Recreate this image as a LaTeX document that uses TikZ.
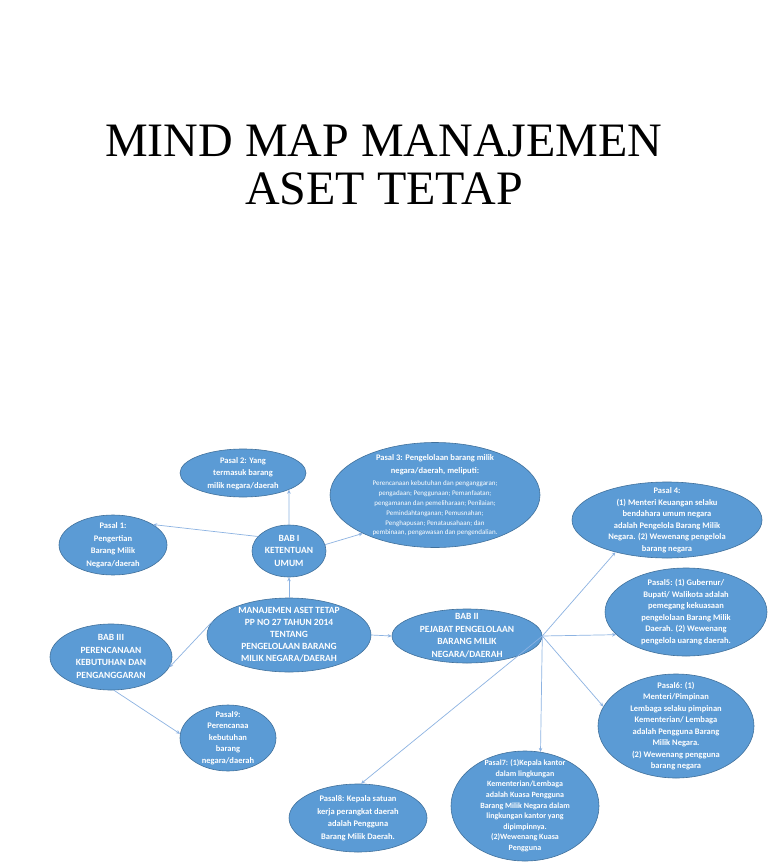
\documentclass[tikz,border=0pt]{standalone}
\usepackage{fontspec}
\setmainfont{Liberation Serif}
\newfontfamily\calfont{Carlito}
\usetikzlibrary{shapes.geometric,arrows.meta}
\definecolor{mapblue}{HTML}{5B9BD5}
\definecolor{mapedge}{HTML}{41719C}
\definecolor{mapline}{HTML}{8DB3E2}
% text of zero size, centred on the node
\newcommand{\maptext}[3]{\vbox to 0pt{\vss\hbox to 0pt{\hss\fontsize{#1}{#2}\selectfont
  \begin{tabular}{@{}c@{}}#3\end{tabular}\hss}\vss}}

\begin{document}
\begin{tikzpicture}[x=1pt,y=-1pt,>={Stealth[length=4pt,width=3.5pt]},
    main node/.style={ellipse,draw=mapedge,line width=0.6pt,fill=mapblue,
      text=white,inner sep=0pt,font=\calfont\bfseries},
    map edge/.style={->,draw=mapline,line width=0.7pt}]
  \useasboundingbox[fill=white] (0,0) rectangle (768,866);
  % Title
  \node (T1) at (384,157) [anchor=base,font=\fontsize{48}{48}\selectfont] {MIND MAP MANAJEMEN};
  \node (T2) at (384,205) [anchor=base,font=\fontsize{48}{48}\selectfont] {ASET TETAP};

  % Nodes
    % BAB I
    \node (P2) at (243,473) [main node,minimum width=126,minimum height=48]
      {\maptext{8.5}{12.5}{Pasal 2: Yang\\termasuk barang\\milik negara/daerah}};
    \node (P3) at (435,495) [main node,minimum width=210,minimum height=105]
      {\maptext{8.5}{12.5}{Pasal 3: Pengelolaan barang milik\\negara/daerah, meliputi:\\
        \fontsize{7}{9.8}\selectfont\mdseries\begin{tabular}[t]{@{}c@{}}
        Perencanaan kebutuhan dan penganggaran;\\pengadaan; Penggunaan; Pemanfaatan;\\
        pengamanan dan pemeliharaan; Penilaian;\\Pemindahtanganan; Pemusnahan;\\
        Penghapusan; Penatausahaan; dan\\pembinaan, pengawasan dan pengendalian.\end{tabular}}};
    \node (P1) at (113,545) [main node,minimum width=108,minimum height=60]
      {\maptext{8.5}{12.5}{Pasal 1:\\Pengertian\\Barang Milik\\Negara/daerah}};
    \node (B1) at (289,551) [main node,minimum width=74,minimum height=52]
      {\maptext{9.5}{12.5}{BAB I\\KETENTUAN\\UMUM}};
    % centre
    \node (M) at (289,635) [main node,minimum width=164,minimum height=74]
      {\maptext{9.5}{12.2}{MANAJEMEN ASET TETAP\\PP NO 27 TAHUN 2014\\TENTANG\\PENGELOLAAN BARANG\\MILIK NEGARA/DAERAH}};
    % BAB II
    \node (B2) at (467,636) [main node,minimum width=150,minimum height=54]
      {\maptext{9.5}{12.5}{BAB II\\PEJABAT PENGELOLAAN\\BARANG MILIK\\NEGARA/DAERAH}};
    \node (P4) at (667,520) [main node,minimum width=190,minimum height=76]
      {\maptext{8.5}{11.5}{Pasal 4:\\(1) Menteri Keuangan selaku\\bendahara umum negara\\adalah Pengelola Barang Milik\\Negara. (2) Wewenang pengelola\\barang negara}};
    \node (P5) at (686,612) [main node,minimum width=162,minimum height=88]
      {\maptext{8.5}{11.5}{Pasal5: (1) Gubernur/\\Bupati/ Walikota adalah\\pemegang kekuasaan\\pengelolaan Barang Milik\\Daerah. (2) Wewenang\\pengelola uarang daerah.}};
    \node (P6) at (676,726) [main node,minimum width=156,minimum height=104]
      {\maptext{8.5}{11.5}{Pasal6: (1)\\Menteri/Pimpinan\\Lembaga selaku pimpinan\\Kementerian/ Lembaga\\adalah Pengguna Barang\\Milik Negara.\\(2) Wewenang pengguna\\barang negara}};
    \node (P7) at (525,806) [main node,minimum width=148,minimum height=110]
      {\maptext{8}{10.6}{Pasal7: (1)Kepala kantor\\dalam lingkungan\\Kementerian/Lembaga\\adalah Kuasa Pengguna\\Barang Milik Negara dalam\\lingkungan kantor yang\\dipimpinnya.\\(2)Wewenang Kuasa\\Pengguna}};
    \node (P8) at (358,818) [main node,minimum width=138,minimum height=68]
      {\maptext{8.5}{12.5}{Pasal8: Kepala satuan\\kerja perangkat daerah\\adalah Pengguna\\Barang Milik Daerah.}};
    % BAB III
    \node (B3) at (111,657) [main node,minimum width=122,minimum height=66]
      {\maptext{9.5}{12.5}{BAB III\\PERENCANAAN\\KEBUTUHAN DAN\\PENGANGGARAN}};
    \node (P9) at (228,738) [main node,minimum width=96,minimum height=66]
      {\maptext{8.5}{11.5}{Pasal9:\\Perencanaa\\kebutuhan\\barang\\negara/daerah}};

  % Edges
    \draw[map edge] (M.north) -- (B1.south);
    \draw[map edge] (B1.north) -- (P2.-20);
    \draw[map edge] (B1.155) -- (P1.27);
    \draw[map edge] (B1.10) -- (P3.208);

    \draw[map edge] (M.east) -- (B2.west);
    \draw[map edge] (B2.east) -- (P4.212);
    \draw[map edge] (B2.east) -- (P5.198);
    \draw[map edge] (B2.east) -- (P6.165);
    \draw[map edge] (B2.east) -- (P7.74);
    \draw[map edge] (B2.east) -- (P8.85);

    \draw[map edge] (M.170) -- (B3.-10);
    \draw[map edge] (B3.-85) -- (P9.175);
\end{tikzpicture}
\end{document}
